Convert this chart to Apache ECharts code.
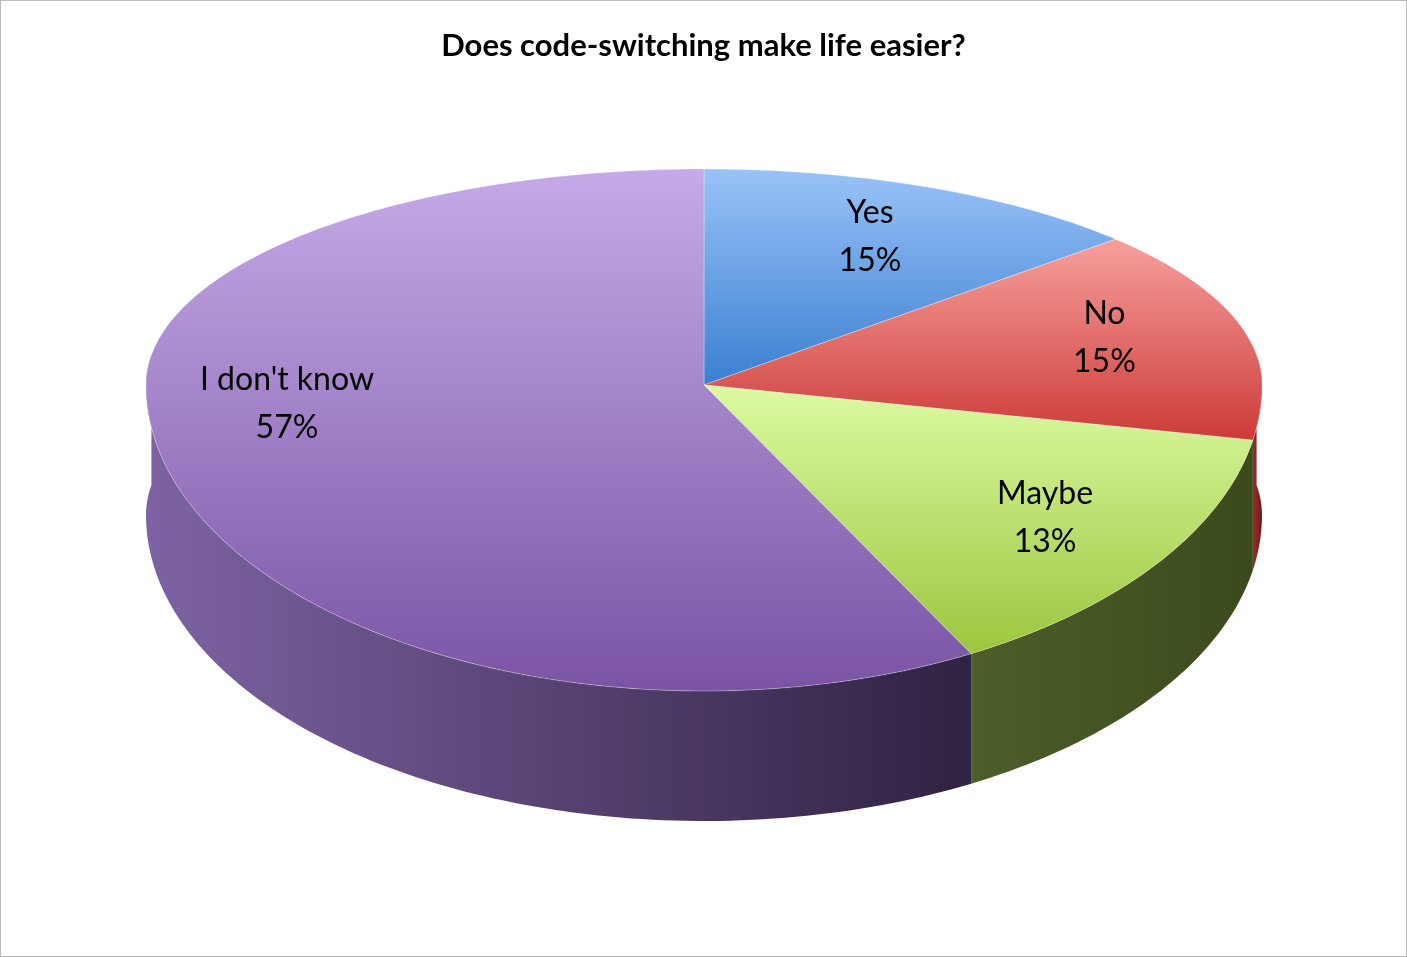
<!DOCTYPE html>
<html><head><meta charset="utf-8">
<script src="https://cdn.jsdelivr.net/npm/echarts@6/dist/echarts.min.js"></script>
<style>html,body{margin:0;padding:0;background:#fff}#c{width:1405px;height:955px;border:1px solid #bdbdbd}</style>
</head><body><div id="c"></div>
<script>
const categories = ["Yes", "No", "Maybe", "I don't know"];
const values = [15, 15, 13, 57];
const topColors = [["#9ac3f7","#3a7fd0"],["#f7a09d","#cc3b38"],["#ddfaa2","#9cc63e"],["#c5aae8","#7a54a4"]];
const sideColors = [["#2c5f9e","#1d3f6a"],["#9a2b29","#6a1d1c"],["#4d5e2b","#3a4a1b"],["#7d63a3","#2f2242"]];

const chart = echarts.init(document.getElementById('c'));
const total = values.reduce((a,b)=>a+b,0);
let acc = 0;
const data = values.map((v,i)=>{const s=acc/total*360; acc+=v; return [i, s, acc/total*360];});
const G = {cx:703, cy:384, rx:558, ryT:216, ryB:306, depth:130, lf:0.75};
function warp(t){return t-8*Math.sin(t*Math.PI/180);}
function pt(t){const r=warp(t)*Math.PI/180;const c=Math.cos(r);return [G.cx+G.rx*Math.sin(r), G.cy-(c>=0?G.ryT:G.ryB)*c];}
function arc(a,b){const p=[];const n=Math.max(2,Math.ceil((b-a)/1));for(let k=0;k<=n;k++)p.push(pt(a+(b-a)*k/n));return p;}
function grad(c,x){return new echarts.graphic.LinearGradient(0,0,x?1:0,x?0:1,[{offset:0,color:c[0]},{offset:1,color:c[1]}]);}

chart.setOption({
  title:{text:'Does code-switching make life easier?',left:'center',top:24,textStyle:{fontFamily:'Lato',fontWeight:'bold',fontSize:31,color:'#000'}},
  series:[{
    type:'custom', coordinateSystem:'none', data:data,
    renderItem:function(params, api){
      const i=api.value(0), s=api.value(1), e=api.value(2);
      const children=[];
      const a=Math.max(s,90), b=Math.min(e,270);
      if(b>a){
        const top=arc(a,b);
        const bot=top.map(p=>[p[0],p[1]+G.depth]).reverse();
        children.push({type:'polygon',z2:1,shape:{points:top.concat(bot)},style:{fill:grad(sideColors[i],true)}});
      }
      const pts=[[G.cx,G.cy]].concat(arc(s,e));
      children.push({type:'polygon',z2:5,shape:{points:pts},style:{fill:grad(topColors[i],false),stroke:'rgba(255,255,255,0.3)',lineWidth:1}});
      const m=warp((s+e)/2)*Math.PI/180, c=Math.cos(m);
      const lx=G.cx+G.rx*Math.sin(m)*G.lf, ly=G.cy-(c>=0?G.ryT:G.ryB)*c*G.lf;
      children.push({type:'text',z2:10,style:{text:categories[i]+'\n'+Math.round(values[i]/total*100)+'%',x:lx,y:ly,align:'center',verticalAlign:'middle',fontFamily:'Lato',fontSize:32,lineHeight:48,fill:'#000'}});
      return {type:'group',children:children};
    }
  }]
});
</script></body></html>
